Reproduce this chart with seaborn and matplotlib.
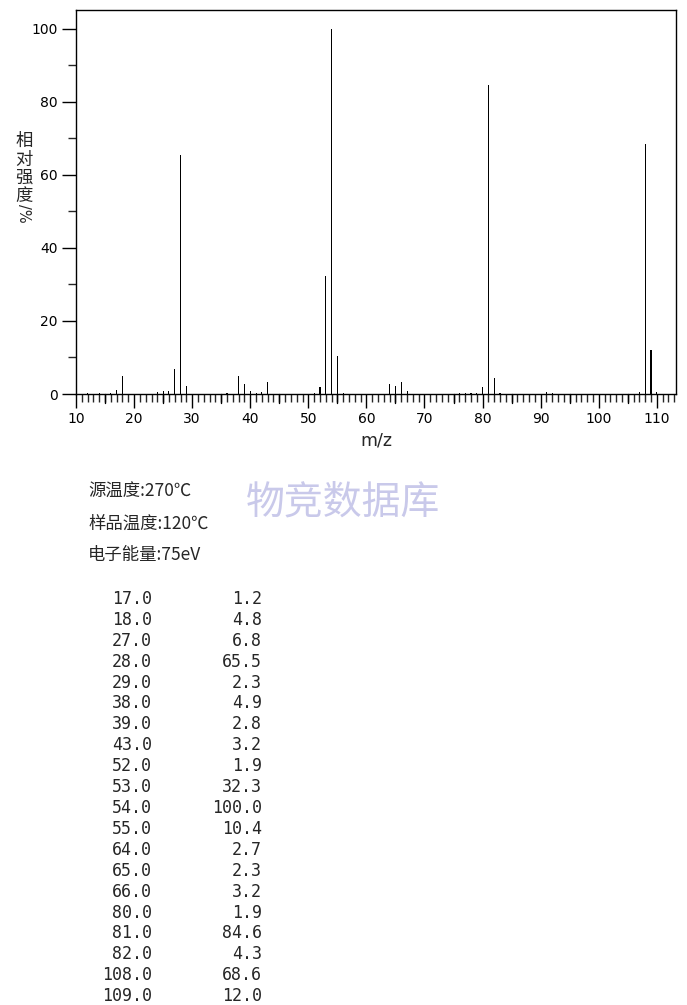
import matplotlib
matplotlib.use("Agg")
import matplotlib.pyplot as plt
import seaborn as sns
import pandas as pd

# main peaks (listed in the table)
table_mz = [17, 18, 27, 28, 29, 38, 39, 43, 52, 53, 54, 55, 64, 65, 66, 80, 81, 82, 108, 109]
table_int = [1.2, 4.8, 6.8, 65.5, 2.3, 4.9, 2.8, 3.2, 1.9, 32.3, 100.0, 10.4,
             2.7, 2.3, 3.2, 1.9, 84.6, 4.3, 68.6, 12.0]

# small peaks only seen in the plot (estimated)
small_mz = [12, 14, 16, 24, 25, 26, 36, 40, 41, 42, 51, 56, 67, 76, 77, 78, 79, 83, 91, 92, 107, 110]
small_int = [0.3, 0.4, 0.3, 0.5, 0.8, 0.8, 0.3, 0.8, 0.3, 0.5, 0.3, 0.4, 0.7,
             0.3, 0.3, 0.3, 0.3, 0.3, 0.5, 0.3, 0.6, 0.6]

conditions = ["源温度:270℃", "样品温度:120℃", "电子能量:75eV"]
ylabel_chars = ["相", "对", "强", "度"]

df = pd.DataFrame({"mz": table_mz + small_mz, "intensity": table_int + small_int})
df = df.sort_values("mz")

sns.set_style("white")
plt.rcParams['font.family'] = ['DejaVu Sans', 'Noto Sans CJK SC']

fig = plt.figure(figsize=(6.87, 10.05), dpi=100)
ax = fig.add_axes([76/687, 1-394/1005, 600/687, 384/1005])

sns.barplot(data=df, x="mz", y="intensity", native_scale=True, width=0.19,
            color="black", linewidth=0, saturation=1, ax=ax)
for p in ax.patches:
    p.set_antialiased(False)

ax.set_xlim(10, 113.3)
ax.set_ylim(0, 105.2)
ax.set_xticks(range(10, 111, 10))
ax.set_xticks(range(10, 114, 1), minor=True)
ax.set_yticks(range(0, 101, 20))
ax.set_yticks(range(10, 101, 20), minor=True)
ax.tick_params(axis="both", which="major", length=10, width=1, direction="out",
               labelsize=10, pad=3, colors="black", bottom=True, left=True)
ax.tick_params(axis="both", which="minor", length=6, width=1, direction="out",
               bottom=True, left=True)
for s in ax.spines.values():
    s.set_visible(True)
    s.set_color("black")
    s.set_linewidth(1)

# medium ticks at every 5 on x
for v in range(15, 111, 10):
    ax.plot([v, v], [0, -2.4], color="black", lw=1, clip_on=False)

ax.set_xlabel("m/z", fontsize=12.5, labelpad=4)
ax.set_ylabel("")

for i, ch in enumerate(ylabel_chars):
    fig.text(24/687, 1-(141 + i*18.5)/1005, ch, family=['Noto Sans CJK SC'], fontsize=12.5,
             ha="center", va="center")
fig.text(24/687, 1-213/1005, "/%", fontsize=10.5, rotation=270, ha="center", va="center")

# conditions
for i, t in enumerate(conditions):
    fig.text(88/687, 1-(492 + i*31.5)/1005, t, family=['Noto Sans CJK SC', 'DejaVu Sans'],
             fontsize=12.5, ha="left", va="center")

# watermark
fig.text(343/687, 1-503/1005, "物竞数据库", family=['Noto Sans CJK SC'], fontsize=28,
         color="#c9c9ea", ha="center", va="center")

# peak table
for i, (m, v) in enumerate(zip(table_mz, table_int)):
    y = 1 - (599 + i*20.9)/1005
    fig.text(152/687, y, f"{m:.1f}", family="DejaVu Sans Mono", fontsize=12,
             ha="right", va="center")
    fig.text(262/687, y, f"{v:.1f}", family="DejaVu Sans Mono", fontsize=12,
             ha="right", va="center")

fig.savefig("out.png", dpi=100)
